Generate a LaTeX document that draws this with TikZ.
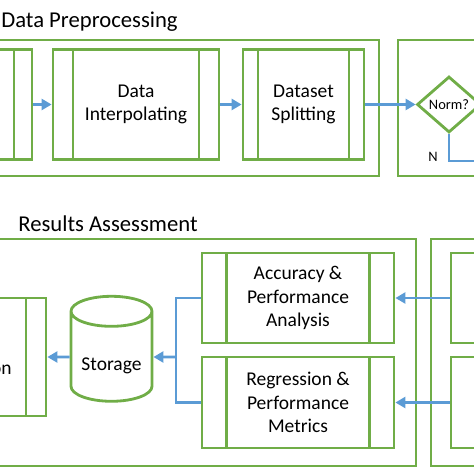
\documentclass[tikz,border=0pt]{standalone}
\usepackage{fontspec}
\setmainfont{Carlito}
\usetikzlibrary{arrows.meta,positioning,shapes.geometric,calc}
\definecolor{grn}{HTML}{70AD47}
\definecolor{blu}{HTML}{5B9BD5}

\begin{document}
\begin{tikzpicture}[
  font=\fontsize{11.1}{13.2}\selectfont,
  frame/.style={draw=grn, line width=1.6pt, inner sep=0pt},
  box/.style={draw=grn, line width=1.6pt, minimum height=1.8cm, align=center,
              inner sep=2pt},
  proc/.style={box, path picture={
      \draw[grn, line width=1.6pt]
        ([xshift=#1]path picture bounding box.north west) --
        ([xshift=#1]path picture bounding box.south west)
        ([xshift=-#1]path picture bounding box.north east) --
        ([xshift=-#1]path picture bounding box.south east);}},
  title/.style={font=\fontsize{12.9}{15}\selectfont, anchor=west, inner sep=0pt},
  small/.style={font=\fontsize{8.2}{9.5}\selectfont},
  ar/.style={-{Triangle[length=2mm, width=2.2mm]}, blu, line width=1.6pt},
  ln/.style={blu, line width=1.6pt}]

\clip (0,0) rectangle (9.48,-9.48);

% data preprocessing row
\node[title] (preT) at (0.02,-0.44) {Data Preprocessing};
\node[frame, minimum width=8.58cm, minimum height=2.72cm] (pre) at (3.29,-2.16) {};
\node[proc=0.36cm, minimum width=2.0cm, minimum height=2.2cm]  (load)   at (-0.36,-2.09) {};
\node[proc=0.4cm, minimum width=3.32cm, minimum height=2.2cm]  (interp) at (2.72,-2.09)
  {Data\\Interpolating};
\node[proc=0.3cm, minimum width=2.42cm, minimum height=2.2cm]  (split)  at (6.07,-2.09)
  {Dataset\\Splitting};

% normalisation check
\node[frame, minimum width=3.04cm, minimum height=2.72cm] (nrm) at (9.48,-2.16) {};
\node[diamond, draw=grn, line width=1.6pt, minimum width=1.28cm, minimum height=1.12cm,
      inner sep=0pt, small] (isnorm) at (8.98,-2.09) {Norm?};
\node[small] (no) at (8.66,-3.14) {N};
\coordinate (noOut) at (9.9,-3.22);

\draw[ar] (load) -- (interp);
\draw[ar] (interp) -- (split);
\draw[ar] (split) -- (isnorm);
\draw[ln] (isnorm.south) |- (noOut);

% results assessment
\node[title] (resT) at (0.36,-4.48) {Results Assessment};
\node[frame, minimum width=9.32cm, minimum height=4.54cm] (res) at (3.66,-7.05) {};
\node[frame, minimum width=2.38cm, minimum height=4.54cm] (mdl) at (9.81,-7.05) {};
\node[box, minimum width=1.98cm] (mdlA) at (10.01,-5.96) {};
\node[box, minimum width=1.98cm, minimum height=1.82cm] (mdlB) at (10.01,-8.05) {};
\node[proc=0.49cm, minimum width=3.84cm] (acc) at (5.96,-5.96)
  {Accuracy \&\\Performance\\Analysis};
\node[proc=0.49cm, minimum width=3.84cm, minimum height=1.82cm] (reg) at (5.96,-8.05)
  {Regression \&\\Performance\\Metrics};
\node[cylinder, shape border rotate=90, aspect=0.5, draw=grn, line width=1.6pt,
      minimum width=1.62cm, minimum height=2.1cm, inner sep=0pt,
      text height=0.62cm, text depth=0.08cm] (store) at (2.23,-7.14) {Storage};
\node[proc=0.4cm, minimum width=2.0cm, minimum height=2.36cm] (vis) at (-0.08,-7.14) {};
\node[anchor=east, inner sep=0pt] (visT) at (0.24,-7.40) {on};
\coordinate (jn) at (3.52,-7.14);

\draw[ar] (mdlA) -- (acc);
\draw[ar] (mdlB) -- (reg);
\draw[ln] (acc.west) -| (jn) |- (reg.west);
\draw[ar] (jn) -- (store);
\draw[ar] (store) -- (vis);
\end{tikzpicture}
\end{document}
